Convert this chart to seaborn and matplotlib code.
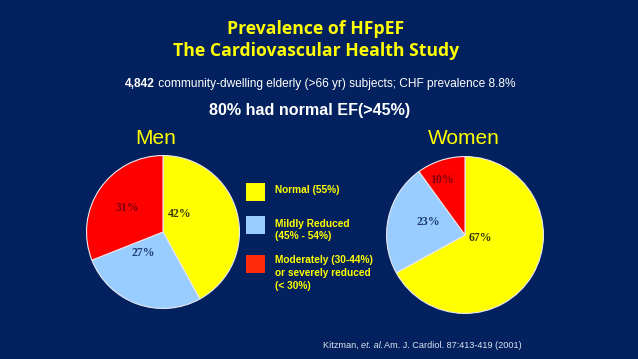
########################################################################################################################
# Prevalence of HFpEF - Cardiovascular Health Study, two pies (men / women) on a navy slide.
########################################################################################################################

import matplotlib
matplotlib.use("Agg")
import matplotlib.pyplot as plt
import seaborn as sns

# Data:
categories = ["Normal (55%)", "Mildly Reduced\n(45% - 54%)", "Moderately (30-44%)\nor severely reduced\n(< 30%)"]
men_values = [42, 27, 31]
women_values = [67, 23, 10]
pie_colors = ["#ffff00", "#99ccff", "#ff0000"]
legend_colors = ["#ffff00", "#99ccff", "#ff2a0a"]
label_colors = ["#3a3a10", "#1f3c78", "#7a0010"]

# Label positions (pie radius units), one per wedge:
men_label_pos = [(0.22, 0.23), (-0.26, -0.27), (-0.47, 0.32)]
women_label_pos = [(0.19, -0.04), (-0.47, 0.17), (-0.29, 0.70)]

navy = "#03215e"
W, H = 638, 359

sns.set_theme(style="white")
plt.rcParams['font.family'] = ['Liberation Sans', 'DejaVu Sans']

fig = plt.figure(figsize=(W / 100, H / 100), dpi=100, facecolor=navy)


def pie_axes(cx, cy, r, values, label_pos, title, title_x):
    ax = fig.add_axes([(cx - r) / W, (H - cy - r) / H, 2 * r / W, 2 * r / H])
    ax.set_facecolor(navy)
    ax.pie(values, colors=pie_colors, startangle=90, counterclock=False, radius=1,
           wedgeprops=dict(edgecolor="#e8e8f0", linewidth=0.8))
    for (x, y), v, c in zip(label_pos, values, label_colors):
        ax.text(x, y, "{}%".format(v), ha="center", va="center", color=c, fontsize=8.5,
                fontweight="bold", family="Liberation Serif")
    ax.set_xlim(-1.02, 1.02)
    ax.set_ylim(-1.02, 1.02)
    ax.set_aspect("equal")
    ax.axis("off")
    fig.text(title_x / W, 1 - 138 / H, title, ha="center", va="center", color="#ffff00", fontsize=15)


pie_axes(163, 232, 78, men_values, men_label_pos, "Men", 156)
pie_axes(465, 235, 80, women_values, women_label_pos, "Women", 464)

# Overlay axes in pixel coordinates for the slide texts and legend:
ax_txt = fig.add_axes([0, 0, 1, 1], facecolor="none")
ax_txt.set_xlim(0, W)
ax_txt.set_ylim(H, 0)
ax_txt.axis("off")

# Titles:
ax_txt.text(316, 29, "Prevalence of HFpEF", ha="center", va="center", color="#ffff00",
            fontsize=12.7, fontweight="bold", family="Open Sans")
ax_txt.text(316, 51, "The Cardiovascular Health Study", ha="center", va="center", color="#ffff00",
            fontsize=12.7, fontweight="bold", family="Open Sans")
t1 = ax_txt.text(125, 84, "4,842", ha="left", va="center", color="white", fontsize=8.6, fontweight="bold")
ax_txt.annotate(" community-dwelling elderly (>66 yr) subjects; CHF prevalence 8.8%",
                xy=(1, 0.5), xycoords=t1, ha="left", va="center", color="white", fontsize=8.6)
ax_txt.text(310, 110, "80% had normal EF(>45%)", ha="center", va="center", color="white",
            fontsize=11.6, fontweight="bold")

# Legend:
sq_tops = [183, 216, 255]
text_y = [190, 230, 273]
for top, ty, lab, col in zip(sq_tops, text_y, categories, legend_colors):
    ax_txt.add_patch(plt.Rectangle((246, top), 19, 18, facecolor=col, edgecolor="none"))
    ax_txt.text(275, ty, lab, ha="left", va="center", color="#ffff00", fontsize=7.3,
                fontweight="bold", linespacing=1.35)

# Citation:
c1 = ax_txt.text(323, 345, "Kitzman, ", ha="left", va="center", color="#dde4f0", fontsize=6.6)
c2 = ax_txt.annotate("et. al.", xy=(1, 0.5), xycoords=c1, ha="left", va="center", color="#dde4f0",
                     fontsize=6.6, style="italic")
ax_txt.annotate("Am. J. Cardiol. 87:413-419 (2001)", xy=(1, 0.5), xycoords=c2, ha="left", va="center",
                color="#dde4f0", fontsize=6.6)

fig.savefig("out.png", dpi=100, facecolor=navy)
